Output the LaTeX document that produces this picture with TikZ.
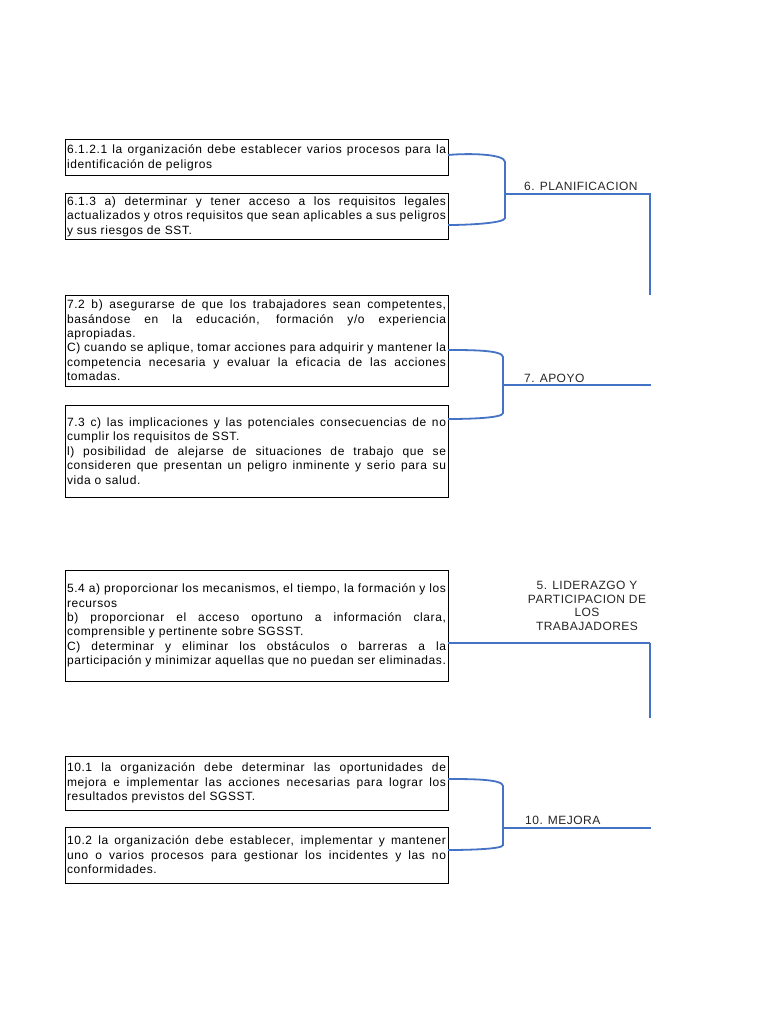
\documentclass[tikz,border=0pt]{standalone}
\usepackage{fontspec}
\setmainfont{Liberation Sans}
\newfontfamily\boxfont[LetterSpace=5]{Liberation Sans}
\newfontfamily\lblfont[LetterSpace=4]{Liberation Sans}
\definecolor{linkblue}{RGB}{68,114,196}
\newcommand\boxtext[1]{\parbox{379pt}{\boxfont\fontsize{12}{14.4}\selectfont\hbadness=10000\relax #1}}
\begin{document}
\begin{tikzpicture}[x=1pt,y=-1pt,
  box/.style={draw=black, line width=1pt, inner sep=2pt, outer sep=0pt, minimum width=383pt, anchor=center},
  conn/.style={draw=linkblue, line width=1.8pt},
  thinconn/.style={draw=linkblue, line width=1.1pt},
  lbl/.style={font=\lblfont\fontsize{12}{13.5}\selectfont, inner sep=0pt, text=black!85}]
\fill[white] (0,0) rectangle (768,1024);
\useasboundingbox (0,0) rectangle (768,1024);

% boxes
\node[box, minimum height=36pt] (b1) at (256.5,158) {\boxtext{6.1.2.1 la organización debe establecer varios procesos para la\linebreak identificación de peligros}};
\node[box, minimum height=45pt] (b2) at (256.5,216.5) {\boxtext{6.1.3 a) determinar y tener acceso a los requisitos legales\linebreak actualizados y otros requisitos que sean aplicables a sus peligros\linebreak y sus riesgos de SST.}};
\node[box, minimum height=91pt] (b3) at (256.5,340.5) {\boxtext{7.2 b) asegurarse de que los trabajadores sean competentes,\linebreak basándose en la educación, formación y/o experiencia\linebreak apropiadas.\par C) cuando se aplique, tomar acciones para adquirir y mantener la\linebreak competencia necesaria y evaluar la eficacia de las acciones\linebreak tomadas.}};
\node[box, minimum height=92pt] (b4) at (256.5,451) {\boxtext{7.3 c) las implicaciones y las potenciales consecuencias de no\linebreak cumplir los requisitos de SST.\par l) posibilidad de alejarse de situaciones de trabajo que se\linebreak consideren que presentan un peligro inminente y serio para su\linebreak vida o salud.}};
\node[box, minimum height=111pt] (b5) at (256.5,625.5) {\boxtext{5.4 a) proporcionar los mecanismos, el tiempo, la formación y los\linebreak recursos\par b) proporcionar el acceso oportuno a información clara,\linebreak comprensible y pertinente sobre SGSST.\par C) determinar y eliminar los obstáculos o barreras a la\linebreak participación y minimizar aquellas que no puedan ser eliminadas.}};
\node[box, minimum height=54pt] (b6) at (256.5,783) {\boxtext{10.1 la organización debe determinar las oportunidades de\linebreak mejora e implementar las acciones necesarias para lograr los\linebreak resultados previstos del SGSST.}};
\node[box, minimum height=56pt] (b7) at (256.5,855) {\boxtext{10.2 la organización debe establecer, implementar y mantener\linebreak uno o varios procesos para gestionar los incidentes y las no\linebreak conformidades.}};

% labels
\node[lbl, anchor=base west] (l6) at (524,191) {6. PLANIFICACION};
\node[lbl, anchor=base west] (l7) at (524,382) {7. APOYO};
\node[lbl, anchor=base west] (l10) at (525,824) {10. MEJORA};
\node[lbl, align=center] (l5) at (587,606) {5. LIDERAZGO Y\\PARTICIPACION DE\\LOS\\TRABAJADORES};

% junction coordinates
\coordinate (j1) at (505,194);
\coordinate (e1) at (650,194);
\coordinate (f1) at (650,295);
\coordinate (j2) at (503,385);
\coordinate (e2) at (651,385);
\coordinate (e5) at (650,643);
\coordinate (f5) at (650,718);
\coordinate (j4) at (503,828);
\coordinate (e4) at (651,828);

% group 6
\draw[conn] ([yshift=3pt]b1.east) .. controls (470,153) and (505,154) .. (505,162) -- (505,218) .. controls (505,223) and (470,225) .. ([yshift=-8.5pt]b2.east);
\draw[conn] (j1) -- (e1) -- (f1);
% group 7
\draw[conn] ([yshift=-9.5pt]b3.east) .. controls (470,350) and (503,350) .. (503,357) -- (503,413) .. controls (503,418) and (470,419) .. ([yshift=32pt]b4.east);
\draw[conn] (j2) -- (e2);
% group 5
\draw[thinconn] ([yshift=-17.5pt]b5.east) -- (e5);
\draw[conn] (e5) -- (f5);
% group 10
\draw[conn] ([yshift=4pt]b6.east) .. controls (470,779) and (503,779) .. (503,786) -- (503,845) .. controls (503,849) and (470,850) .. ([yshift=5pt]b7.east);
\draw[conn] (j4) -- (e4);
\end{tikzpicture}
\end{document}
